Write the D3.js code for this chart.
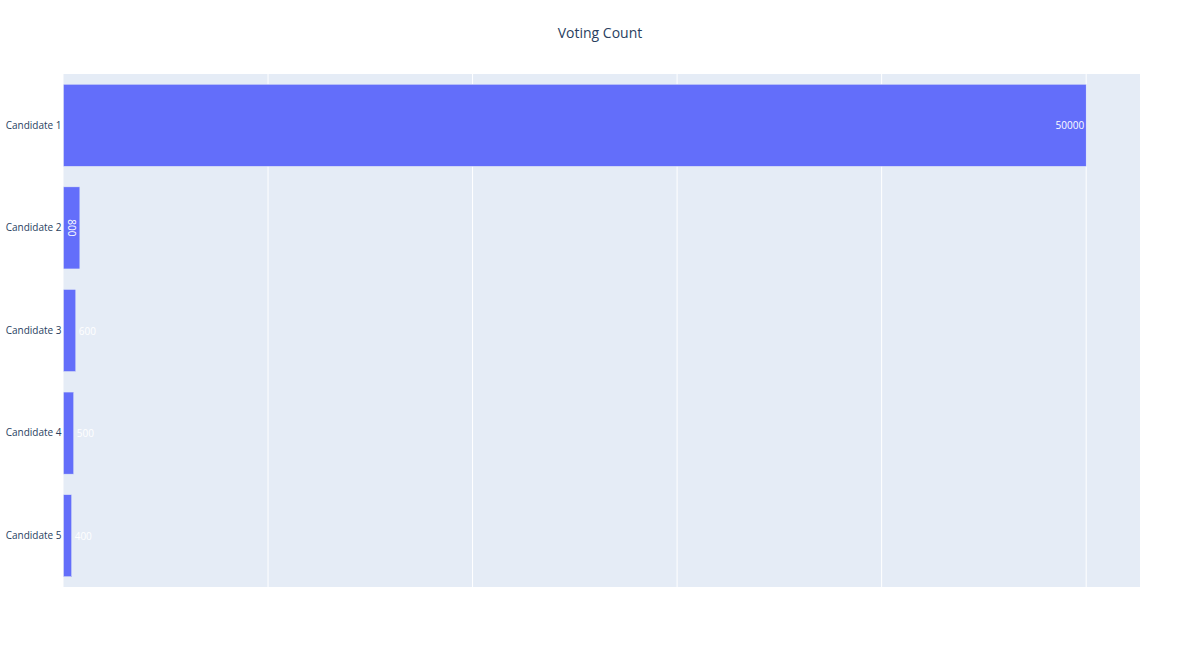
<!DOCTYPE html>
<html>
<head>
<meta charset="utf-8">
<script src="https://d3js.org/d3.v7.min.js"></script>
<style>
  body { margin: 0; background: #fff; }
  text { font-family: "Open Sans", verdana, arial, sans-serif; }
</style>
</head>
<body>
<div id="chart"></div>
<script>
// Chart data
var candidates = ["Candidate 1", "Candidate 2", "Candidate 3", "Candidate 4", "Candidate 5"];
var votes = [50000, 800, 600, 500, 400];
var gridTicks = [10000, 20000, 30000, 40000, 50000];

var svgWidth = 1200, svgHeight = 647;
var margin = { top: 74, right: 60, bottom: 60, left: 63.5 };
var width = 1140 - margin.left;
var height = 587 - margin.top;

var svg = d3.select("#chart").append("svg")
    .attr("width", svgWidth)
    .attr("height", svgHeight);

// title
svg.append("text")
    .attr("x", svgWidth / 2)
    .attr("y", 38)
    .attr("text-anchor", "middle")
    .attr("fill", "#2a3f5f")
    .style("font-size", "14px")
    .text("Voting Count");

var chartGroup = svg.append("g")
    .attr("transform", `translate(${margin.left}, ${margin.top})`);

chartGroup.append("rect")
    .attr("width", width)
    .attr("height", height)
    .attr("fill", "#e5ecf6");

var xScale = d3.scaleLinear()
    .domain([0, d3.max(votes) * 1.0526316])
    .range([0, width]);

var yScale = d3.scaleBand()
    .domain(candidates)
    .range([0, height])
    .paddingInner(0.2)
    .paddingOuter(0.1);

// gridlines
chartGroup.selectAll("line.grid")
    .data(gridTicks)
    .enter()
    .append("line")
    .attr("class", "grid")
    .attr("x1", d => xScale(d))
    .attr("x2", d => xScale(d))
    .attr("y1", 0)
    .attr("y2", height)
    .attr("stroke", "#fff")
    .attr("stroke-width", 1);

var data = candidates.map((c, i) => ({ name: c, value: votes[i] }));

// category labels via axis
var leftAxis = d3.axisLeft(yScale).tickSize(0).tickPadding(2);
var yAxis = chartGroup.append("g").call(leftAxis);
yAxis.select(".domain").remove();
yAxis.selectAll("text")
    .attr("fill", "#2a3f5f")
    .style("font-size", "10px")
    .style("font-family", '"Open Sans", verdana, arial, sans-serif');

// bars
chartGroup.selectAll("rect.bar")
    .data(data)
    .enter()
    .append("rect")
    .attr("class", "bar")
    .attr("x", xScale(0))
    .attr("y", d => yScale(d.name))
    .attr("width", d => xScale(d.value) - xScale(0))
    .attr("height", yScale.bandwidth())
    .attr("fill", "#636efa")
    .attr("stroke", "#e5ecf6")
    .attr("stroke-width", 0.5);

// value labels: inside end if it fits, rotated if it fits that way, else outside
chartGroup.selectAll("text.val")
    .data(data)
    .enter()
    .append("text")
    .attr("class", "val")
    .attr("fill", "#fff")
    .style("font-size", "10px")
    .attr("dominant-baseline", "central")
    .text(d => d.value)
    .each(function(d) {
        var t = d3.select(this);
        var barW = xScale(d.value) - xScale(0);
        var cy = yScale(d.name) + yScale.bandwidth() / 2;
        var tw = this.getComputedTextLength();
        if (tw + 6 < barW) {
            t.attr("text-anchor", "end")
             .attr("x", xScale(d.value) - 2)
             .attr("y", cy);
        } else if (barW >= 14) {
            var cx = xScale(0) + barW / 2;
            t.attr("text-anchor", "middle")
             .attr("x", 0).attr("y", 0)
             .attr("transform", `translate(${cx},${cy}) rotate(90)`);
        } else {
            t.attr("text-anchor", "start")
             .attr("x", xScale(d.value) + 3)
             .attr("y", cy);
        }
    });
</script>
</body>
</html>
